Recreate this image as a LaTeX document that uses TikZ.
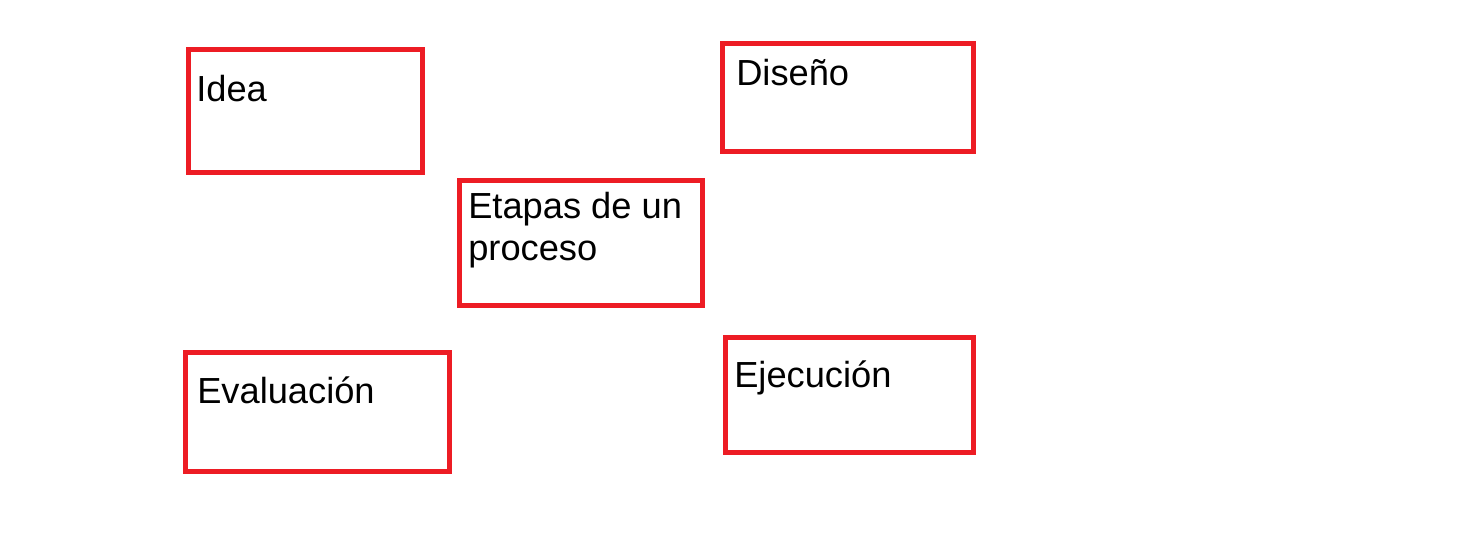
\documentclass[tikz,border=0pt]{standalone}
\usepackage{fontspec}
\setmainfont{Liberation Sans}
\usetikzlibrary{fit}
\definecolor{paintred}{RGB}{237,28,36}

\begin{document}
\begin{tikzpicture}[x=0.75pt, y=-0.75pt,
  caja/.style={rectangle, draw=paintred, line width=3.75pt, inner sep=0pt},
  texto/.style={anchor=base west, inner sep=0pt, align=left, font={\fontsize{27.2}{31.5}\selectfont}}]

  \useasboundingbox (0,0) rectangle (1476,544);

  \node[caja, fit={(188,49) (422,172)}] (idea) {};
  \node[caja, fit={(722.5,43.5) (973.5,151)}] (diseno) {};
  \node[caja, fit={(459,180) (702,305)}] (etapas) {};
  \node[caja, fit={(185.5,352) (449,471)}] (evaluacion) {};
  \node[caja, fit={(725,337.5) (973,452)}] (ejecucion) {};

  % textos arriba a la izquierda de cada caja
  \node[texto] (ideaT) at (196,101) {Idea};
  \node[texto] (disenoT) at (736,85) {Diseño};
  \node[texto] (etapasT) at (468,260) {Etapas de un\\proceso};
  \node[texto] (evaluacionT) at (197,403) {Evaluación};
  \node[texto] (ejecucionT) at (734,387) {Ejecución};
\end{tikzpicture}
\end{document}
